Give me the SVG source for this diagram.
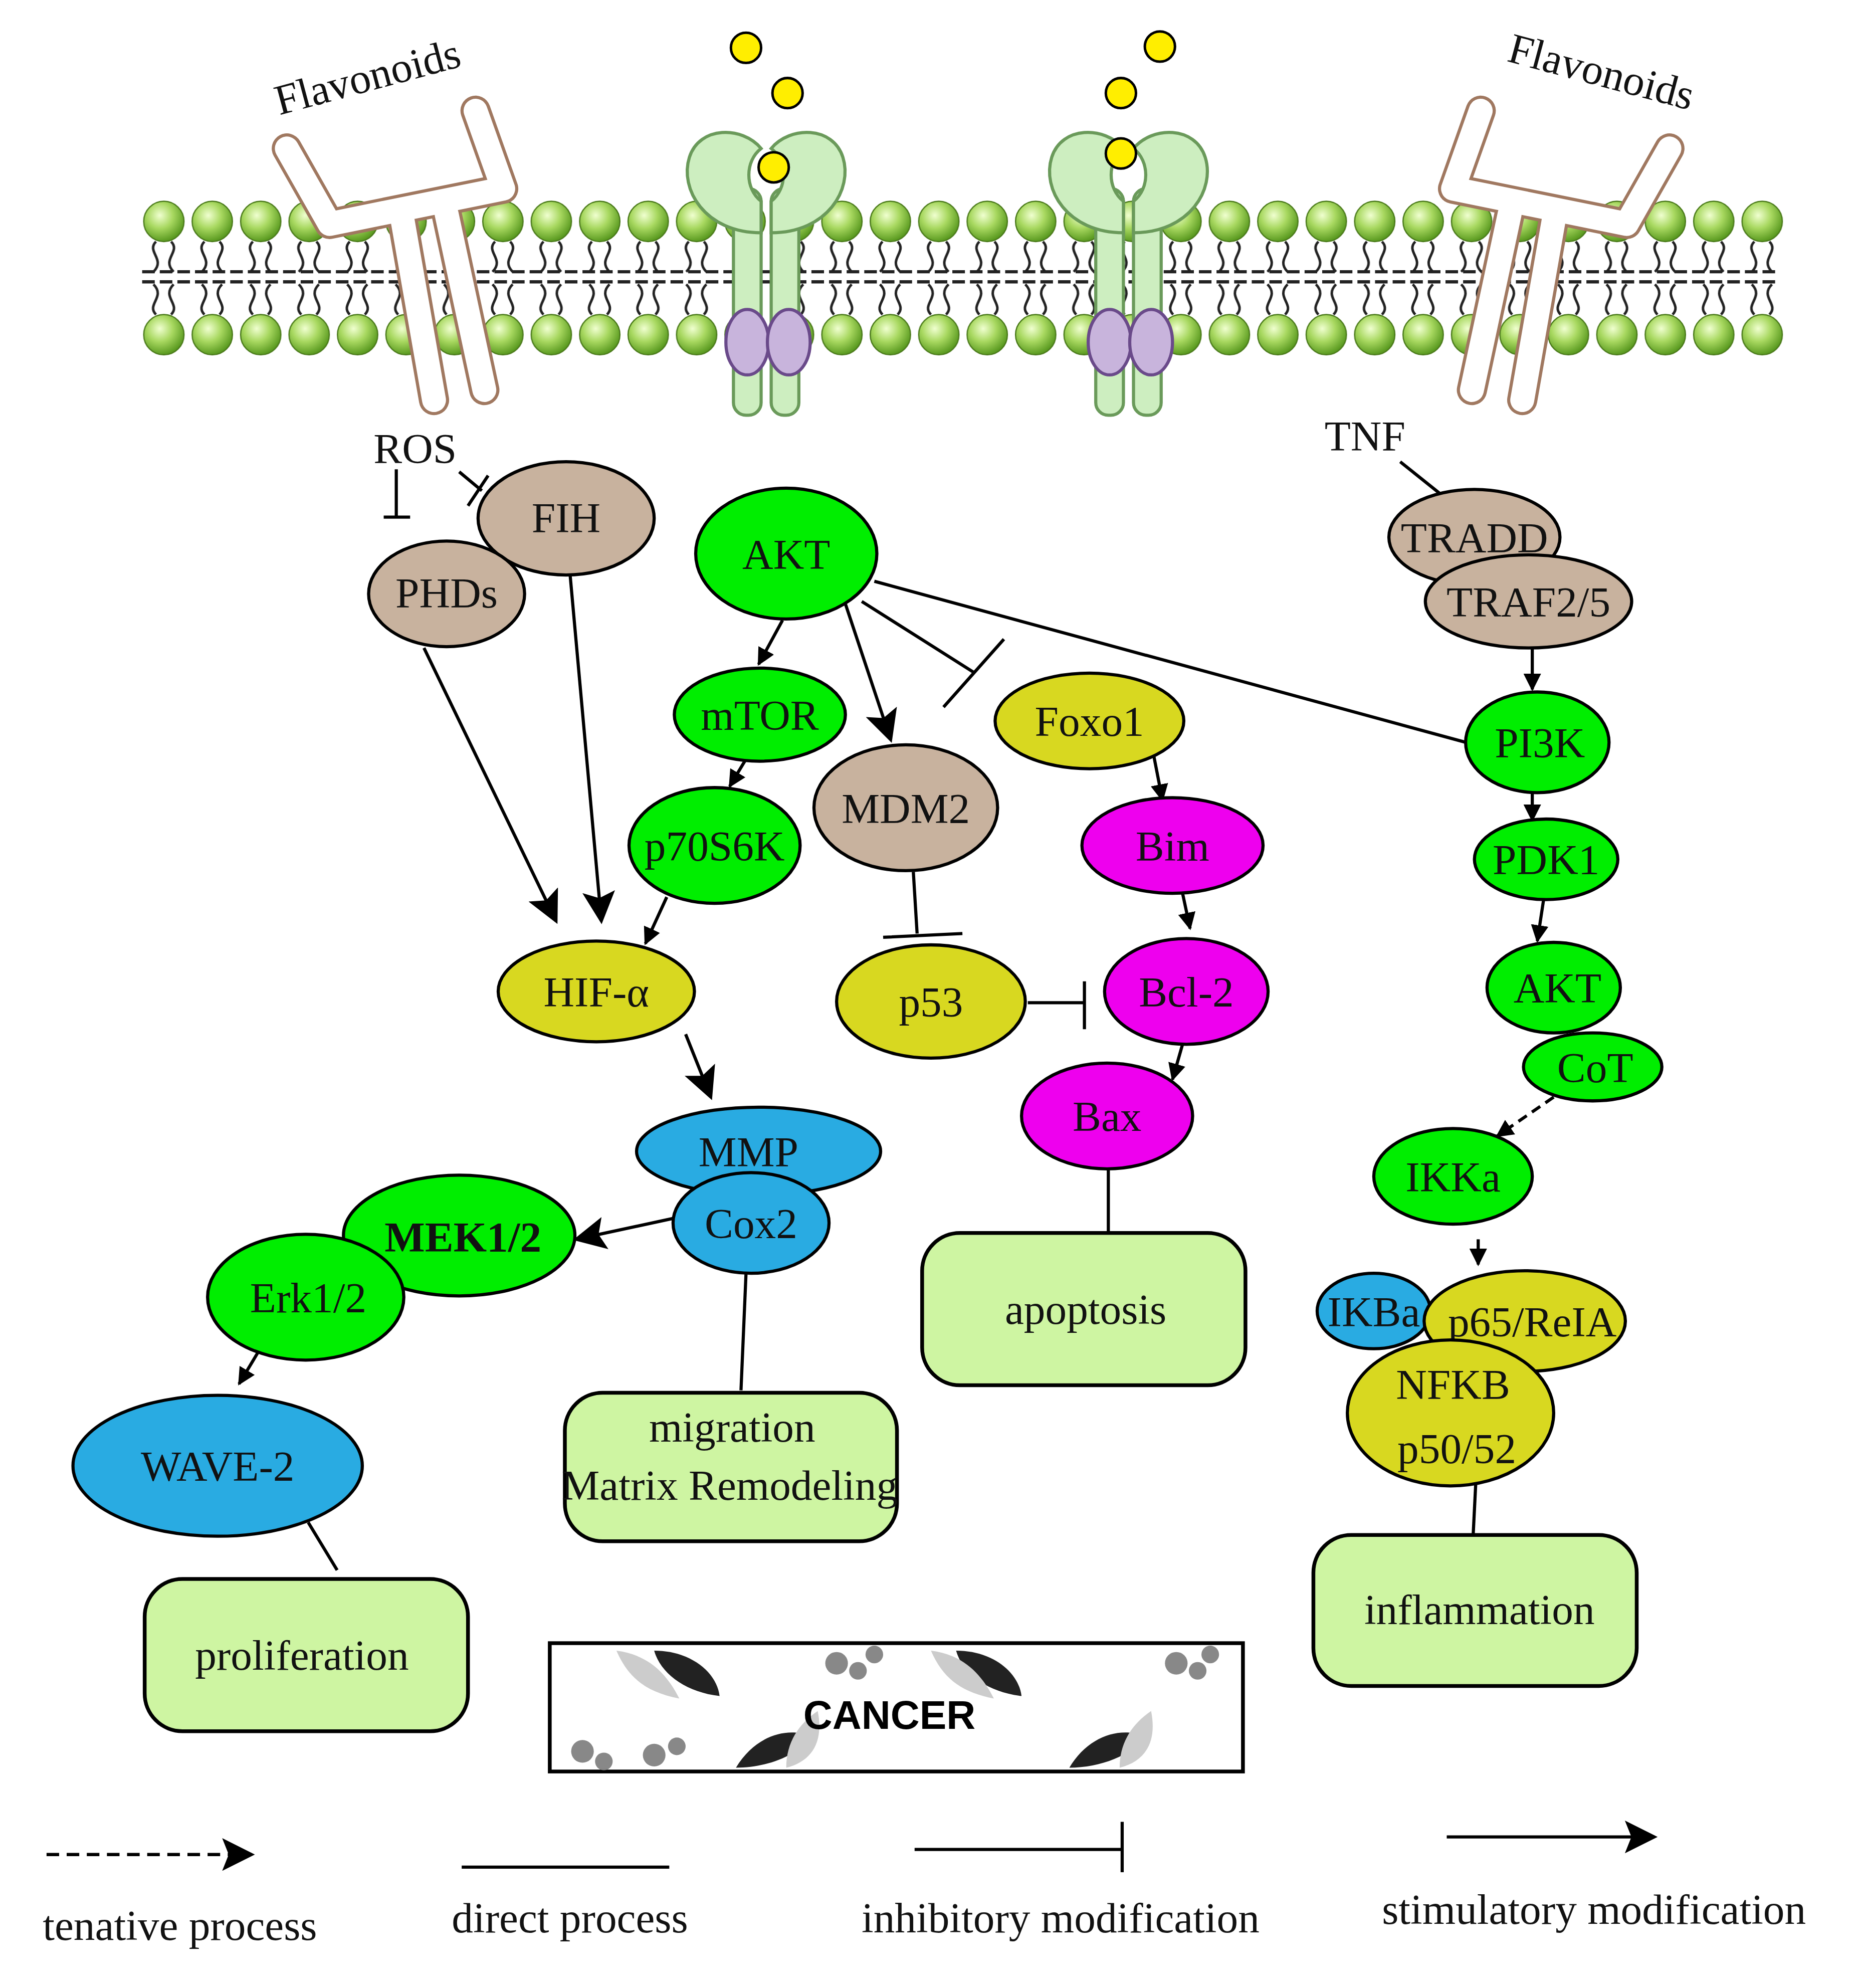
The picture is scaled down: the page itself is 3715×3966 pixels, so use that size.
<svg xmlns="http://www.w3.org/2000/svg" width="3715" height="3966" viewBox="0 0 3715 3966">
<defs>
<radialGradient id="hg" cx="0.4" cy="0.35" r="0.65"><stop offset="0" stop-color="#f0ffd0"/><stop offset="0.5" stop-color="#a8d860"/><stop offset="1" stop-color="#5a9a20"/></radialGradient>
<pattern id="heads" x="111" y="0" width="38.5" height="300" patternUnits="userSpaceOnUse">
<circle cx="19.25" cy="176" r="16" fill="url(#hg)" stroke="#4a7a1a" stroke-width="1"/>
<circle cx="19.25" cy="266" r="16" fill="url(#hg)" stroke="#4a7a1a" stroke-width="1"/>
<path d="M13,192 C5,200 21,206 11,216 M25,192 C33,200 17,206 27,216 M13,250 C5,242 21,236 11,226 M25,250 C33,242 17,236 27,226" fill="none" stroke="#222" stroke-width="2"/>
</pattern>
<marker id="ar" viewBox="0 0 10 10" refX="9" refY="5" markerWidth="14" markerHeight="14" markerUnits="userSpaceOnUse" orient="auto"><path d="M0,0 L10,5 L0,10 z" fill="#000"/></marker>
<marker id="arb" viewBox="0 0 10 10" refX="9" refY="5" markerWidth="26" markerHeight="26" markerUnits="userSpaceOnUse" orient="auto"><path d="M0,0 L10,5 L0,10 L2,5 z" fill="#000"/></marker>
</defs>
<style>
.n{stroke:#000;stroke-width:2.5}
.g{fill:#00ee00}.t{fill:#c8b29e}.y{fill:#d8d820}.m{fill:#ee00ee}.b{fill:#29abe2}
.tx{font-family:"Liberation Serif",serif;font-size:34px;text-anchor:middle;fill:#111}
.bx{fill:#cef5a2;stroke:#000;stroke-width:3}
.c{stroke:#000;stroke-width:2.5;fill:none}
.rc1{fill:none;stroke:#a07860;stroke-width:24;stroke-linecap:round;stroke-linejoin:round}
.rc2{fill:none;stroke:#fff;stroke-width:19;stroke-linecap:round;stroke-linejoin:round}
.ch{fill:#cdeec0;stroke:#6a9a5a;stroke-width:2.5}
.pu{fill:#c8b4dc;stroke:#6a4a8a;stroke-width:2.5}
.dot{fill:#ffee00;stroke:#000;stroke-width:2}
</style>
<rect width="3715" height="3966" fill="#fff"/>
<g transform="scale(2.51)">
<g id="membrane">
<rect x="111" y="150" width="1310" height="140" fill="url(#heads)"/>
<line x1="113" y1="216" x2="1415" y2="216" stroke="#222" stroke-width="2.5" stroke-dasharray="10,4"/>
<line x1="113" y1="224" x2="1415" y2="224" stroke="#222" stroke-width="2.5" stroke-dasharray="10,4"/>
</g>
<g id="receptor-left">
<path class="rc1" d="M228,118 L262,178 L400,150 L378,88 M320,175 L345,318 M355,170 L385,310"/>
<path class="rc2" d="M228,118 L262,178 L400,150 L378,88 M320,175 L345,318 M355,170 L385,310"/>
<text class="tx" transform="translate(295,72) rotate(-15)">Flavonoids</text>
</g>
<g id="receptor-right">
<g transform="translate(1555,0) scale(-1,1)">
<path class="rc1" d="M228,118 L262,178 L400,150 L378,88 M320,175 L345,318 M355,170 L385,310"/>
<path class="rc2" d="M228,118 L262,178 L400,150 L378,88 M320,175 L345,318 M355,170 L385,310"/>
</g>
<text class="tx" transform="translate(1270,68) rotate(15)">Flavonoids</text>
</g>
<g id="channel-left">
<rect class="ch" x="583" y="150" width="22" height="180" rx="10"/>
<rect class="ch" x="613" y="150" width="22" height="180" rx="10"/>
<path class="ch" d="M605,185 C560,185 540,150 548,125 C556,100 590,100 605,118 C592,128 592,150 605,160 z"/>
<path class="ch" d="M613,185 C658,185 678,150 670,125 C662,100 628,100 613,118 C626,128 626,150 613,160 z"/>
<ellipse class="pu" cx="594" cy="272" rx="17" ry="26"/>
<ellipse class="pu" cx="627" cy="272" rx="17" ry="26"/>
<circle class="dot" cx="593" cy="38" r="12"/><circle class="dot" cx="626" cy="74" r="12"/><circle class="dot" cx="615" cy="133" r="12"/>
</g>
<g id="channel-right" >
<g transform="translate(288,0)">
<rect class="ch" x="583" y="150" width="22" height="180" rx="10"/>
<rect class="ch" x="613" y="150" width="22" height="180" rx="10"/>
<path class="ch" d="M605,185 C560,185 540,150 548,125 C556,100 590,100 605,118 C592,128 592,150 605,160 z"/>
<path class="ch" d="M613,185 C658,185 678,150 670,125 C662,100 628,100 613,118 C626,128 626,150 613,160 z"/>
<ellipse class="pu" cx="594" cy="272" rx="17" ry="26"/>
<ellipse class="pu" cx="627" cy="272" rx="17" ry="26"/>
</g>
<circle class="dot" cx="922" cy="37" r="12"/><circle class="dot" cx="891" cy="74" r="12"/><circle class="dot" cx="891" cy="122" r="12"/>
</g>
<g id="connectors">
<path class="c" d="M315,373 L315,410 M305,411 L326,411"/>
<path class="c" d="M365,375 L383,390 M372,402 L388,378"/>
<line class="c" x1="337" y1="515" x2="442" y2="732" marker-end="url(#arb)"/>
<line class="c" x1="453" y1="455" x2="478" y2="732" marker-end="url(#arb)"/>
<line class="c" x1="622" y1="493" x2="603" y2="528" marker-end="url(#ar)"/>
<line class="c" x1="592" y1="605" x2="580" y2="625" marker-end="url(#ar)"/>
<line class="c" x1="672" y1="480" x2="708" y2="588" marker-end="url(#arb)"/>
<path class="c" d="M685,478 L775,535 M750,562 L798,508"/>
<line class="c" x1="695" y1="462" x2="1165" y2="590"/>
<line class="c" x1="530" y1="713" x2="513" y2="750" marker-end="url(#ar)"/>
<path class="c" d="M726,693 L729,742 M702,745 L765,742"/>
<path class="c" d="M817,797 L862,797 M862,780 L862,818"/>
<line class="c" x1="917" y1="600" x2="924" y2="636" marker-end="url(#ar)"/>
<line class="c" x1="940" y1="710" x2="946" y2="738" marker-end="url(#ar)"/>
<line class="c" x1="940" y1="830" x2="932" y2="858" marker-end="url(#ar)"/>
<line class="c" x1="881" y1="930" x2="881" y2="980"/>
<line class="c" x1="545" y1="822" x2="565" y2="872" marker-end="url(#arb)"/>
<line class="c" x1="537" y1="968" x2="458" y2="985" marker-end="url(#arb)"/>
<line class="c" x1="593" y1="1012" x2="589" y2="1105"/>
<line class="c" x1="205" y1="1075" x2="190" y2="1100" marker-end="url(#ar)"/>
<line class="c" x1="245" y1="1210" x2="268" y2="1248"/>
<line class="c" x1="1113" y1="367" x2="1148" y2="395"/>
<line class="c" x1="1218" y1="515" x2="1218" y2="548" marker-end="url(#ar)"/>
<line class="c" x1="1218" y1="630" x2="1218" y2="652" marker-end="url(#ar)"/>
<line class="c" x1="1227" y1="715" x2="1222" y2="748" marker-end="url(#ar)"/>
<line class="c" x1="1235" y1="872" x2="1190" y2="903" stroke-dasharray="8,5" marker-end="url(#ar)"/>
<line class="c" x1="1175" y1="985" x2="1175" y2="1005" marker-end="url(#ar)"/>
<line class="c" x1="1173" y1="1180" x2="1171" y2="1220"/>
</g>
<text class="tx" x="330" y="368">ROS</text>
<text class="tx" x="1085" y="358">TNF</text>
<g id="FIH"><ellipse class="n t" cx="450" cy="412" rx="70" ry="45"/><text class="tx" x="450" y="423">FIH</text></g>
<g id="PHDs"><ellipse class="n t" cx="355" cy="472" rx="62" ry="42"/><text class="tx" x="355" y="483">PHDs</text></g>
<g id="AKT"><ellipse class="n g" cx="625" cy="440" rx="72" ry="52"/><text class="tx" x="625" y="452">AKT</text></g>
<g id="mTOR"><ellipse class="n g" cx="604" cy="568" rx="68" ry="37"/><text class="tx" x="604" y="580">mTOR</text></g>
<g id="p70S6K"><ellipse class="n g" cx="568" cy="672" rx="68" ry="46"/><text class="tx" x="568" y="684">p70S6K</text></g>
<g id="MDM2"><ellipse class="n t" cx="720" cy="642" rx="73" ry="50"/><text class="tx" x="720" y="654">MDM2</text></g>
<g id="Foxo1"><ellipse class="n y" cx="866" cy="573" rx="75" ry="38"/><text class="tx" x="866" y="585">Foxo1</text></g>
<g id="Bim"><ellipse class="n m" cx="932" cy="672" rx="72" ry="38"/><text class="tx" x="932" y="684">Bim</text></g>
<g id="HIF"><ellipse class="n y" cx="474" cy="788" rx="78" ry="40"/><text class="tx" x="474" y="800">HIF-α</text></g>
<g id="p53"><ellipse class="n y" cx="740" cy="796" rx="75" ry="45"/><text class="tx" x="740" y="808">p53</text></g>
<g id="Bcl2"><ellipse class="n m" cx="943" cy="788" rx="65" ry="42"/><text class="tx" x="943" y="800">Bcl-2</text></g>
<g id="Bax"><ellipse class="n m" cx="880" cy="887" rx="68" ry="42"/><text class="tx" x="880" y="899">Bax</text></g>
<g id="MMP"><ellipse class="n b" cx="603" cy="915" rx="97" ry="35"/><text class="tx" x="595" y="927">MMP</text></g>
<g id="Cox2"><ellipse class="n b" cx="597" cy="972" rx="62" ry="40"/><text class="tx" x="597" y="984">Cox2</text></g>
<g id="MEK"><ellipse class="n g" cx="365" cy="982" rx="92" ry="48"/><text class="tx" x="368" y="995" font-weight="bold">MEK1/2</text></g>
<g id="Erk"><ellipse class="n g" cx="243" cy="1031" rx="78" ry="50"/><text class="tx" x="245" y="1043">Erk1/2</text></g>
<g id="WAVE2"><ellipse class="n b" cx="173" cy="1165" rx="115" ry="56"/><text class="tx" x="173" y="1177">WAVE-2</text></g>
<g id="TRADD"><ellipse class="n t" cx="1172" cy="427" rx="68" ry="38"/><text class="tx" x="1172" y="439">TRADD</text></g>
<g id="TRAF"><ellipse class="n t" cx="1215" cy="478" rx="82" ry="37"/><text class="tx" x="1215" y="490">TRAF2/5</text></g>
<g id="PI3K"><ellipse class="n g" cx="1222" cy="590" rx="57" ry="40"/><text class="tx" x="1224" y="602">PI3K</text></g>
<g id="PDK1"><ellipse class="n g" cx="1229" cy="683" rx="57" ry="32"/><text class="tx" x="1229" y="695">PDK1</text></g>
<g id="AKT2"><ellipse class="n g" cx="1235" cy="785" rx="53" ry="36"/><text class="tx" x="1238" y="797">AKT</text></g>
<g id="CoT"><ellipse class="n g" cx="1266" cy="848" rx="55" ry="27"/><text class="tx" x="1268" y="860">CoT</text></g>
<g id="IKKa"><ellipse class="n g" cx="1155" cy="935" rx="63" ry="38"/><text class="tx" x="1155" y="947">IKKa</text></g>
<g id="IKBa"><ellipse class="n b" cx="1092" cy="1042" rx="45" ry="30"/><text class="tx" x="1092" y="1054">IKBa</text></g>
<g id="p65"><ellipse class="n y" cx="1212" cy="1050" rx="80" ry="40"/><text class="tx" x="1218" y="1062">p65/ReIA</text></g>
<g id="NFKB"><ellipse class="n y" cx="1153" cy="1123" rx="82" ry="58"/><text class="tx" x="1155" y="1112">NFKB</text><text class="tx" x="1158" y="1163">p50/52</text></g>
<g id="apoptosis"><rect class="bx" x="733" y="980" width="257" height="121" rx="30"/><text class="tx" x="863" y="1052">apoptosis</text></g>
<g id="migration"><rect class="bx" x="449" y="1107" width="264" height="118" rx="30"/><text class="tx" x="582" y="1146">migration</text><text class="tx" x="580" y="1192" font-size="31">Matrix Remodeling</text></g>
<g id="proliferation"><rect class="bx" x="115" y="1255" width="257" height="121" rx="30"/><text class="tx" x="240" y="1327">proliferation</text></g>
<g id="inflammation"><rect class="bx" x="1044" y="1220" width="257" height="120" rx="30"/><text class="tx" x="1176" y="1291">inflammation</text></g>
<g id="cancer">
<rect x="437" y="1306" width="551" height="102" fill="#fff" stroke="#000" stroke-width="3"/>
<path d="M520,1312 C550,1312 570,1330 572,1348 C545,1345 525,1330 520,1312z M760,1312 C790,1312 810,1330 812,1348 C785,1345 765,1330 760,1312z M585,1405 C600,1380 625,1372 645,1380 C635,1395 610,1405 585,1405z M850,1405 C865,1380 890,1372 910,1380 C900,1395 875,1405 850,1405z" fill="#222"/>
<path d="M490,1312 C500,1335 515,1345 540,1350 C530,1330 515,1315 490,1312z M740,1312 C750,1335 765,1345 790,1350 C780,1330 765,1315 740,1312z M625,1405 C625,1385 635,1370 650,1360 C655,1385 645,1400 625,1405z M890,1405 C890,1385 900,1370 915,1360 C920,1385 910,1400 890,1405z" fill="#ccc"/>
<g fill="#888"><circle cx="665" cy="1322" r="9"/><circle cx="682" cy="1328" r="7"/><circle cx="695" cy="1315" r="7"/><circle cx="935" cy="1322" r="9"/><circle cx="952" cy="1328" r="7"/><circle cx="962" cy="1315" r="7"/><circle cx="463" cy="1392" r="9"/><circle cx="480" cy="1400" r="7"/><circle cx="520" cy="1395" r="9"/><circle cx="538" cy="1388" r="7"/></g>
<text x="707" y="1374" font-family="Liberation Sans Narrow,Liberation Sans,sans-serif" font-size="32" font-weight="bold" text-anchor="middle" fill="#000">CANCER</text>
</g>
<g id="legend">
<line class="c" x1="37" y1="1474" x2="200" y2="1474" stroke-dasharray="10,6" marker-end="url(#arb)"/>
<text class="tx" x="143" y="1542">tenative process</text>
<line class="c" x1="367" y1="1484" x2="532" y2="1484"/>
<text class="tx" x="453" y="1536">direct process</text>
<path class="c" d="M727,1470 L892,1470 M892,1448 L892,1488"/>
<text class="tx" x="843" y="1536">inhibitory modification</text>
<line class="c" x1="1150" y1="1460" x2="1315" y2="1460" marker-end="url(#arb)"/>
<text class="tx" x="1267" y="1529">stimulatory modification</text>
</g>
</g>
</svg>
